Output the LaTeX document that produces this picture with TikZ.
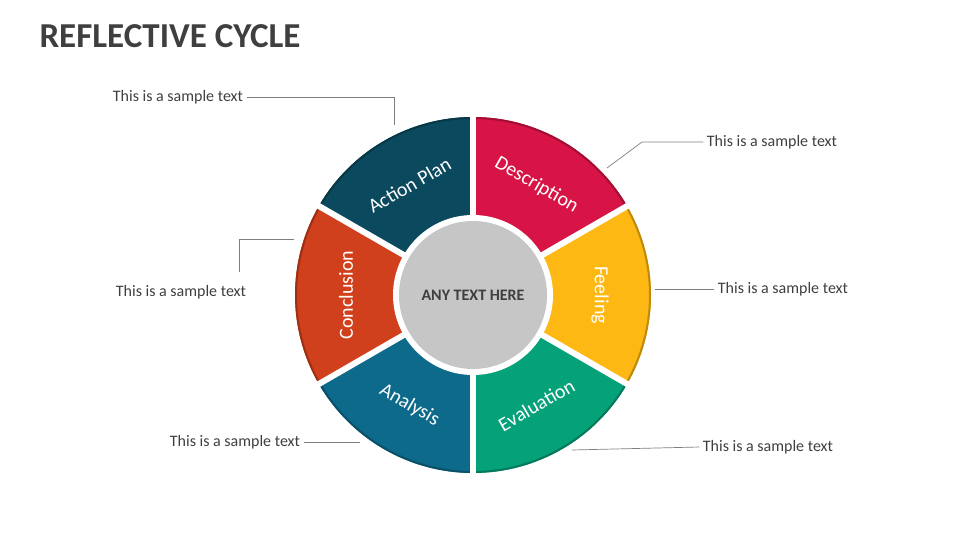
\documentclass[tikz,border=0pt]{standalone}
\usepackage{fontspec}
\setmainfont{Carlito}
\usetikzlibrary{calc}
\definecolor{cdesc}{HTML}{D81345}
\definecolor{cfeel}{HTML}{FDB813}
\definecolor{ceval}{HTML}{05A27A}
\definecolor{cana}{HTML}{0E6A8A}
\definecolor{cconc}{HTML}{D0401C}
\definecolor{cact}{HTML}{0B4A5E}
\definecolor{ctitle}{HTML}{3F3F3F}
\definecolor{cline}{HTML}{7F7F7F}
\begin{document}
\begin{tikzpicture}[x=1pt,y=-1pt,
  lab/.style={text=white,font=\fontsize{20}{22}\selectfont},
  sample/.style={text=ctitle,font=\fontsize{16}{18}\selectfont},
  callout/.style={draw=cline,line width=0.7pt}]
\useasboundingbox (0,0) rectangle (960,540);
\node[anchor=west,text=ctitle,font=\bfseries\fontsize{35}{40}\selectfont] (title) at (36,36) {REFLECTIVE CYCLE};
\coordinate (c) at (473,295);
\def\R{178}
\foreach \a/\b/\col in {30/90/cdesc,-30/30/cfeel,-90/-30/ceval,-150/-90/cana,150/210/cconc,90/150/cact}{
  \fill[\col] (c) -- ++(-\a:\R) arc[start angle=-\a,end angle=-\b,radius=\R] -- cycle;
  \draw[\col!75!black,line width=2pt] ($(c)+(-\a:\R-1)$) arc[start angle=-\a,end angle=-\b,radius=\R-1];
}
\foreach \a in {90,30,-30,-90,-150,150}{
  \draw[white,line width=6pt] (c) -- ++(-\a:\R+3);
}
\fill[white] (c) circle (80);
\fill[gray!45] (c) circle (74);
\node[font=\bfseries\fontsize{16}{18}\selectfont,text=ctitle] (center) at (c) {ANY TEXT HERE};
\node[lab,rotate=-30] (desc) at ($(c)+(-60:127)$) {Description};
\node[lab,rotate=-90] (feel) at ($(c)+(0:127)$) {Feeling};
\node[lab,rotate=30] (eval) at ($(c)+(60:127)$) {Evaluation};
\node[lab,rotate=-30] (ana) at ($(c)+(120:127)$) {Analysis};
\node[lab,rotate=90] (conc) at ($(c)+(180:127)$) {Conclusion};
\node[lab,rotate=30] (act) at ($(c)+(240:127)$) {Action Plan};
\node[sample] (t1) at (178,97) {This is a sample text};
\node[sample] (t2) at (772,142) {This is a sample text};
\node[sample] (t3) at (783,289) {This is a sample text};
\node[sample] (t4) at (768,447) {This is a sample text};
\node[sample] (t5) at (235,442) {This is a sample text};
\node[sample] (t6) at (181,292) {This is a sample text};
\draw[callout] (t1.east) -- (394,97) -- (394,125);
\draw[callout] (t2.west) -- (642,142) -- (607,168);
\draw[callout] (t3.west) -- (655,289);
\draw[callout] (t4.west) -- (572,450);
\draw[callout] (t5.east) -- (360,442);
\draw[callout] (294,239) -- (239,239) -- (239,272);
\end{tikzpicture}
\end{document}
